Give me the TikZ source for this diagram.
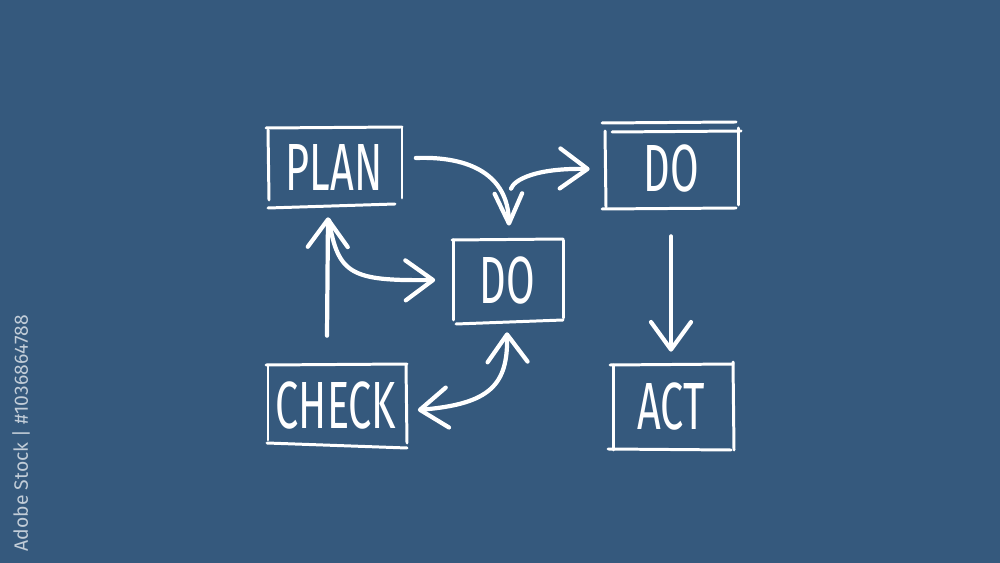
\documentclass[tikz,border=0pt]{standalone}
\usepackage{fontspec}
\setmainfont{Fira Sans}
\usepackage{graphicx}
\usetikzlibrary{arrows.meta,calc}
\definecolor{bg}{RGB}{53,89,125}
\tikzset{
  sk/.style={white, line width=1.7pt, line cap=round},
  conn/.style={white, line width=2.4pt, line cap=round, line join=round},
  tip/.style={-{Straight Barb[length=0.55cm,width=0.8cm,round]}},
  narrowtip/.style={-{Straight Barb[length=0.6cm,width=0.55cm,round]}},
  twotip/.style={{Straight Barb[length=0.55cm,width=0.8cm,round]}-{Straight Barb[length=0.55cm,width=0.8cm,round]}},
  lbl/.style={text=white, inner sep=0pt, font=\fontsize{38}{40}\selectfont},
}
\newcommand{\cond}[1]{\scalebox{0.62}[1]{#1}}
\begin{document}
\begin{tikzpicture}[x=0.02cm,y=-0.02cm]
\fill[bg] (0,0) rectangle (1000,563);
\useasboundingbox (0,0) rectangle (1000,563);

% nodes (box-sized, text inside)
\node[lbl, minimum width=2.74cm, minimum height=1.6cm] (plan) at (334,168) {\cond{PLAN}};
\node[lbl, minimum width=2.72cm, minimum height=1.72cm] (doA) at (671,169) {\cond{DO}};
\node[lbl, minimum width=2.22cm, minimum height=1.68cm] (doB) at (507,281) {\cond{DO}};
\node[lbl, minimum width=2.82cm, minimum height=1.68cm] (check) at (336,406) {\cond{CHECK}};
\node[lbl, minimum width=2.46cm, minimum height=1.72cm] (act) at (671,407) {\cond{ACT}};

% sketched boxes
\draw[sk] (266,128)--(402,127);
\draw[sk] (268,130)--(269,200);
\draw[sk] (402,128)--(402,198);
\draw[sk] (268,208)--(395,204);

\draw[sk] (602,123)--(736,122);
\draw[sk] (612,132)--(741,131);
\draw[sk] (605,131)--(606,207);
\draw[sk] (738,128)--(738,205);
\draw[sk] (602,209)--(736,208);

\draw[sk] (452,240)--(563,239);
\draw[sk] (453,240)--(453,320);
\draw[sk] (563,240)--(563,318);
\draw[sk] (456,324)--(563,320);

\draw[sk] (266,365)--(407,364);
\draw[sk] (268,365)--(268,440);
\draw[sk] (406,365)--(407,443);
\draw[sk] (267,443)--(407,448);

\draw[sk] (610,365)--(733,364);
\draw[sk] (613,365)--(613,450);
\draw[sk] (733,362)--(734,450);
\draw[sk] (608,449)--(731,450);

% connectors
\draw[conn,narrowtip] ($(plan.east)+(13,-10)$) .. controls (470,156) and (508,175) .. ($(doB.north)+(2,-13)$);
\draw[conn,tip] ($(doB.north)+(4,-50)$) .. controls (514,180) and (535,168) .. ($(doA.west)+(-13,0)$);
\draw[conn,tip] ($(check.north)+(-9,-28)$) -- ($(plan.south)+(-6,9)$);
\draw[conn,tip] ($(plan.south)+(-5,12)$) .. controls (338,275) and (352,281) .. ($(doB.west)+(-16,-1)$);
\draw[conn,twotip] ($(check.east)+(11,4)$) .. controls (490,404) and (508,385) .. ($(doB.south)+(0,9)$);
\draw[conn,tip] ($(doA.south)+(0,24)$) -- ($(act.north)+(0,-12)$);

% stock id
\node[rotate=90, anchor=east, text=white!70!bg, inner sep=0pt, font=\fontsize{11}{13}\selectfont] (wm) at (21,315) {Adobe Stock | \#1036864788};
\end{tikzpicture}
\end{document}
